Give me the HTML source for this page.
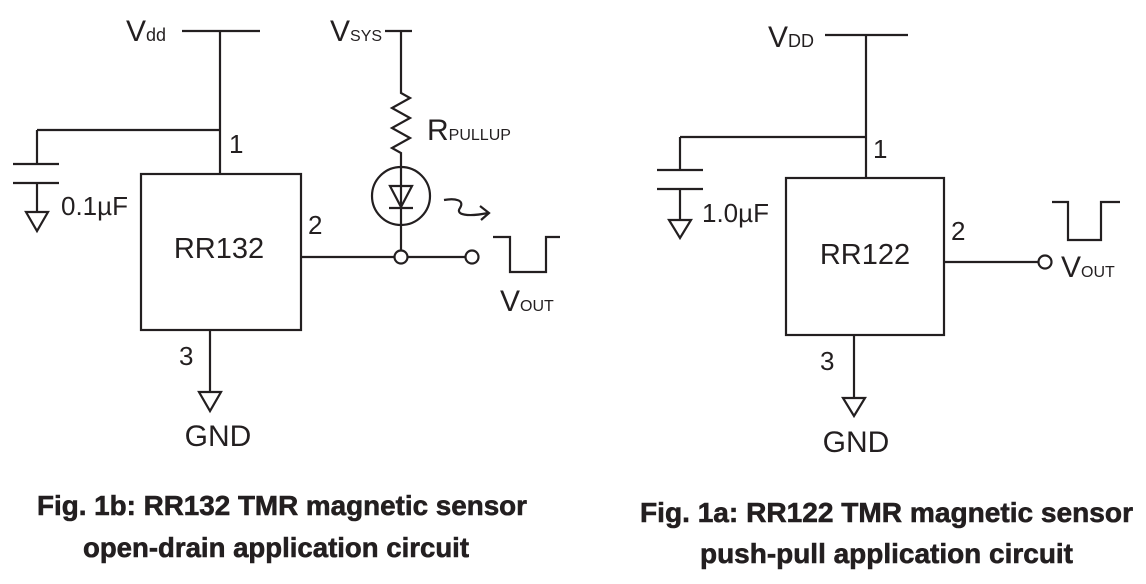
<!DOCTYPE html>
<html><head><meta charset="utf-8"><style>
html,body{margin:0;padding:0;background:#fff;}
svg{display:block;}
text{font-family:"Liberation Sans Narrow","Liberation Sans",sans-serif;fill:#231f20;}
.b{font-weight:bold;stroke:#231f20;stroke-width:0.6;}
</style></head><body>
<svg width="1146" height="584" viewBox="0 0 1146 584" xmlns="http://www.w3.org/2000/svg">
<g stroke="#231f20" stroke-width="2.2" fill="none">
<line x1="182" y1="31" x2="260" y2="31"/>
<line x1="220" y1="31" x2="220" y2="174"/>
<line x1="37" y1="130" x2="220" y2="130"/>
<line x1="37" y1="130" x2="37" y2="164"/>
<line x1="13" y1="164" x2="59" y2="164"/>
<line x1="13" y1="183" x2="59" y2="183"/>
<line x1="37" y1="183" x2="37" y2="212"/>
<polygon points="26,212 48,212 37,231"/>
<rect x="141" y="174" width="160" height="156"/>
<line x1="210" y1="330" x2="210" y2="392"/>
<polygon points="199,392 221,392 210,411"/>
<line x1="301" y1="257" x2="395" y2="257"/>
<circle cx="401" cy="257" r="6.5" fill="#fff"/>
<line x1="407" y1="257" x2="466" y2="257"/>
<circle cx="472" cy="257" r="6.5" fill="#fff"/>
<line x1="385" y1="31" x2="412" y2="31"/>
<polyline points="401,31 401,93 410,98 392,108 410,118 392,128 410,138 392,148 401,153 401,167"/>
<circle cx="401" cy="196" r="29"/>
<line x1="401" y1="167" x2="401" y2="250"/>
<polygon points="390,186 412,186 401,207"/>
<line x1="389" y1="208" x2="413" y2="208"/>
<path d="M444,200 C455,198 465,200 460,208 C455,215 468,217 488,213"/>
<polyline points="480,206 489,213 481,220"/>
<polyline points="493,237 510,237 510,272 546,272 546,237 560,237"/>
<line x1="825" y1="35" x2="908" y2="35"/>
<line x1="866" y1="35" x2="866" y2="178"/>
<line x1="680" y1="137" x2="866" y2="137"/>
<line x1="680" y1="137" x2="680" y2="170"/>
<line x1="657" y1="170" x2="703" y2="170"/>
<line x1="657" y1="189" x2="703" y2="189"/>
<line x1="680" y1="189" x2="680" y2="220"/>
<polygon points="669,220 691,220 680,238"/>
<rect x="786" y="178" width="158" height="157"/>
<line x1="854" y1="335" x2="854" y2="398"/>
<polygon points="843,398 865,398 854,416"/>
<line x1="944" y1="262" x2="1039" y2="262"/>
<circle cx="1045" cy="262" r="6.5" fill="#fff"/>
<polyline points="1052,202 1068,202 1068,240 1101,240 1101,202 1120,202"/>
</g>
<text x="126" y="41" font-size="30">V<tspan font-size="18">dd</tspan></text>
<text x="330" y="41" font-size="30">V<tspan font-size="16">SYS</tspan></text>
<text x="427" y="140" font-size="30">R<tspan font-size="16">PULLUP</tspan></text>
<text x="229" y="153" font-size="26">1</text>
<text x="61" y="215" font-size="26">0.1µF</text>
<text x="219" y="258" font-size="29" text-anchor="middle">RR132</text>
<text x="308" y="234" font-size="26">2</text>
<text x="179" y="365" font-size="26">3</text>
<text x="218" y="446" font-size="30" text-anchor="middle">GND</text>
<text x="500" y="311" font-size="30">V<tspan font-size="16">OUT</tspan></text>
<text x="768" y="47" font-size="30">V<tspan font-size="18">DD</tspan></text>
<text x="873" y="158" font-size="26">1</text>
<text x="702" y="222" font-size="26">1.0µF</text>
<text x="865" y="264" font-size="29" text-anchor="middle">RR122</text>
<text x="951" y="240" font-size="26">2</text>
<text x="820" y="370" font-size="26">3</text>
<text x="856" y="452" font-size="30" text-anchor="middle">GND</text>
<text x="1061" y="277" font-size="30">V<tspan font-size="16">OUT</tspan></text>
<text class="b" x="37" y="515" font-size="28" textLength="490" lengthAdjust="spacingAndGlyphs">Fig. 1b:  RR132 TMR magnetic sensor</text>
<text class="b" x="83" y="557" font-size="28" textLength="386" lengthAdjust="spacingAndGlyphs">open-drain application circuit</text>
<text class="b" x="640" y="522" font-size="28" textLength="493" lengthAdjust="spacingAndGlyphs">Fig. 1a:  RR122 TMR magnetic sensor</text>
<text class="b" x="700" y="563" font-size="28" textLength="373" lengthAdjust="spacingAndGlyphs">push-pull application circuit</text>
</svg>
</body></html>
